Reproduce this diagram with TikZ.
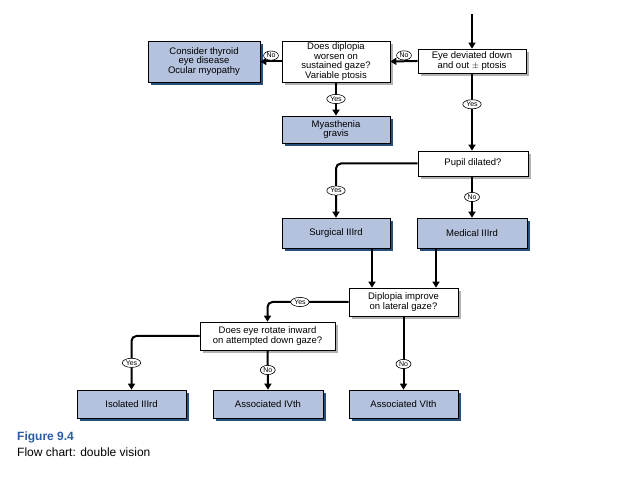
\documentclass[tikz,border=0pt]{standalone}
\usepackage{fontspec}
\setmainfont{Liberation Sans}
\usetikzlibrary{arrows.meta,shadows,shapes.geometric}
\definecolor{boxblue}{HTML}{B4C2DE}
\definecolor{shblue}{HTML}{2A4F7A}
\definecolor{figblue}{HTML}{2B5BA8}
\begin{document}
\begin{tikzpicture}[x=1pt,y=-1pt,
  base/.style={draw=black,line width=0.7pt,align=center,font=\fontsize{9.5}{9.5}\selectfont,inner sep=1pt},
  bluebox/.style={base,fill=boxblue,drop shadow={shadow xshift=3pt,shadow yshift=-3pt,fill=shblue,opacity=1}},
  whitebox/.style={base,fill=white,drop shadow={shadow xshift=3pt,shadow yshift=-3pt,fill=gray!60,opacity=1}},
  lbl/.style={draw,ellipse,fill=white,inner sep=0.8pt,font=\fontsize{7}{7}\selectfont,line width=0.6pt},
  arr/.style={line width=2pt,-{Triangle[length=6pt,width=7pt]},rounded corners=5pt}]
\useasboundingbox (0,0) rectangle (638,478);
\node[bluebox,minimum width=112pt,minimum height=41pt] (thy) at (204,61.5) {Consider thyroid\\eye disease\\Ocular myopathy};
\node[whitebox,minimum width=108pt,minimum height=41pt] (dw) at (336,61.5) {Does diplopia\\worsen on\\sustained gaze?\\Variable ptosis};
\node[whitebox,minimum width=108pt,minimum height=24pt] (eye) at (472,61) {Eye deviated down\\and out $\pm$ ptosis};
\node[bluebox,minimum width=108pt,minimum height=27pt] (mg) at (336,129.5) {Myasthenia\\gravis};
\node[whitebox,minimum width=110pt,minimum height=25pt] (pd) at (473,163.5) {Pupil dilated?};
\node[bluebox,minimum width=108pt,minimum height=30pt] (sur) at (336,233) {Surgical IIIrd};
\node[bluebox,minimum width=110pt,minimum height=30pt] (med) at (472,233) {Medical IIIrd};
\node[whitebox,minimum width=109pt,minimum height=28pt] (di) at (403.5,302) {Diplopia improve\\on lateral gaze?};
\node[whitebox,minimum width=135pt,minimum height=28pt] (rot) at (267.5,336) {Does eye rotate inward\\on attempted down gaze?};
\node[bluebox,minimum width=109pt,minimum height=28pt] (iso) at (131.5,404) {Isolated IIIrd};
\node[bluebox,minimum width=110pt,minimum height=28pt] (iv) at (268,404) {Associated IVth};
\node[bluebox,minimum width=109pt,minimum height=28pt] (vi) at (403.5,404) {Associated VIth};
\coordinate (top) at (472,14);
\draw[arr] (top) -- (eye.north);
\draw[arr] (eye.west) -- (dw.east) node[lbl,midway,above=1pt] {No};
\draw[arr] (dw.west) -- (thy.east) node[lbl,midway,above=1pt] {No};
\draw[arr] (dw.south) -- node[lbl]{Yes} (mg.north);
\draw[arr] (eye.south) -- node[lbl,pos=0.4]{Yes} (pd.north -| eye.south);
\draw[arr] (pd.west) -| node[lbl,pos=0.75]{Yes} (sur.north);
\draw[arr] (pd.south -| med.north) -- node[lbl]{No} (med.north);
\draw[arr] (sur.south -| 372,0) -- (di.north -| 372,0);
\draw[arr] (med.south -| 436,0) -- (di.north -| 436,0);
\draw[arr] (di.west) -| node[lbl,pos=0.3]{Yes} (rot.north);
\draw[arr] (rot.west) -| node[lbl,pos=0.75]{Yes} (iso.north);
\draw[arr] (rot.south) -- node[lbl]{No} (iv.north);
\draw[arr] (di.south) -- node[lbl,pos=0.65]{No} (vi.north);
\node[anchor=west,font=\bfseries\fontsize{12}{12}\selectfont,text=figblue,inner sep=0] (fig) at (17,437) {Figure 9.4};
\node[anchor=west,font=\fontsize{12}{12}\selectfont,inner sep=0] (cap) at (17,452) {Flow chart: double vision};
\end{tikzpicture}
\end{document}
